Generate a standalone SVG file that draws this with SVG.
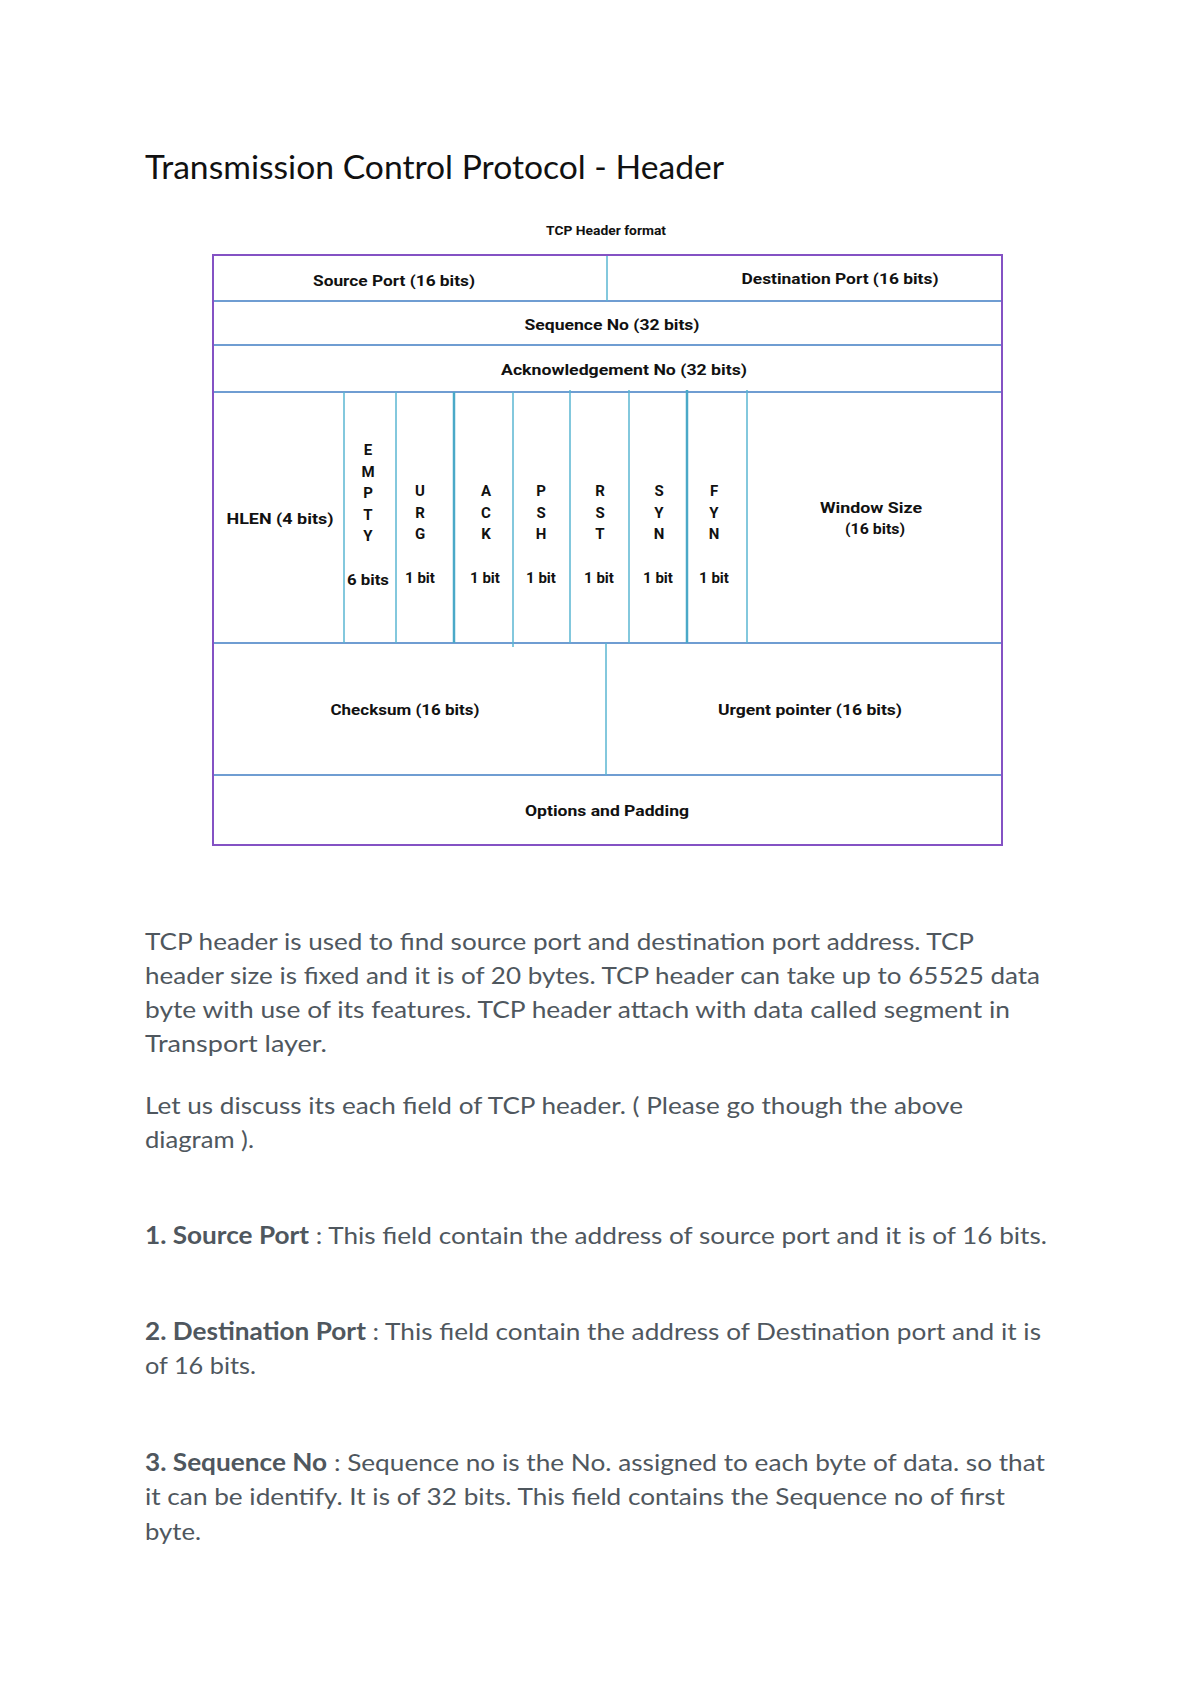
<svg xmlns="http://www.w3.org/2000/svg" width="1200" height="1696" viewBox="0 0 1200 1696">
<style>
.title{font-family:Lato,"Open Sans","Liberation Sans",sans-serif;font-size:32px;fill:#111}
.body{font-family:Lato,"Open Sans","Liberation Sans",sans-serif;font-size:24px;fill:#4f575e}
.b{font-weight:bold}
.lbl{font-family:Roboto,"Liberation Sans",sans-serif;font-weight:bold;font-size:15px;fill:#111;text-anchor:middle}
.cap{font-family:Roboto,"Liberation Sans",sans-serif;font-weight:bold;font-size:12px;fill:#111;text-anchor:middle}
.hl{stroke:#6f9dd2;stroke-width:2;fill:none}
.vl{stroke:#5ab6d2;stroke-width:1.5;fill:none}
.vt{stroke:#4aa9c8;stroke-width:2.5;fill:none}
.outer{stroke:#8452c4;stroke-width:2;fill:none}
</style>
<rect width="1200" height="1696" fill="#fff"/>
<text class="title" x="145" y="179" textLength="579" lengthAdjust="spacingAndGlyphs">Transmission Control Protocol - Header</text>
<text class="cap" x="606" y="235" textLength="120" lengthAdjust="spacingAndGlyphs">TCP Header format</text>

<g id="connectors">
<line class="hl" x1="213" y1="301" x2="1002" y2="301"/>
<line class="hl" x1="213" y1="345" x2="1002" y2="345"/>
<line class="hl" x1="213" y1="392" x2="1002" y2="392"/>
<line class="hl" x1="213" y1="643" x2="1002" y2="643"/>
<line class="hl" x1="213" y1="775" x2="1002" y2="775"/>
<line class="vl" x1="607" y1="255" x2="607" y2="301"/>
<line class="vl" x1="344" y1="392" x2="344" y2="643"/>
<line class="vl" x1="396" y1="392" x2="396" y2="643"/>
<line class="vt" x1="454" y1="392" x2="454" y2="643"/>
<line class="vl" x1="513" y1="392" x2="513" y2="647"/>
<line class="vl" x1="570" y1="390" x2="570" y2="643"/>
<line class="vl" x1="629" y1="390" x2="629" y2="643"/>
<line class="vt" x1="687" y1="390" x2="687" y2="643"/>
<line class="vl" x1="747" y1="390" x2="747" y2="643"/>
<line class="vl" x1="606" y1="643" x2="606" y2="775"/>
<rect class="outer" x="213" y="255" width="789" height="590"/>
</g>

<g id="source-port"><text class="lbl" x="394" y="286" textLength="162" lengthAdjust="spacingAndGlyphs">Source Port (16 bits)</text></g>
<g id="destination-port"><text class="lbl" x="840" y="284" textLength="197" lengthAdjust="spacingAndGlyphs">Destination Port (16 bits)</text></g>
<g id="sequence-no"><text class="lbl" x="612" y="330" textLength="175" lengthAdjust="spacingAndGlyphs">Sequence No (32 bits)</text></g>
<g id="ack-no"><text class="lbl" x="624" y="375" textLength="246" lengthAdjust="spacingAndGlyphs">Acknowledgement No (32 bits)</text></g>
<g id="hlen"><text class="lbl" x="280" y="524" textLength="107" lengthAdjust="spacingAndGlyphs">HLEN (4 bits)</text></g>
<g id="empty">
<text class="lbl" x="368" y="455">E</text><text class="lbl" x="368" y="477">M</text><text class="lbl" x="368" y="498">P</text><text class="lbl" x="368" y="520">T</text><text class="lbl" x="368" y="541">Y</text>
<text class="lbl" x="368" y="585" textLength="42" lengthAdjust="spacingAndGlyphs">6 bits</text>
</g>
<g id="urg"><text class="lbl" x="420" y="496">U</text><text class="lbl" x="420" y="518">R</text><text class="lbl" x="420" y="539">G</text><text class="lbl" x="420" y="583">1 bit</text></g>
<g id="ack"><text class="lbl" x="486" y="496">A</text><text class="lbl" x="486" y="518">C</text><text class="lbl" x="486" y="539">K</text><text class="lbl" x="485" y="583">1 bit</text></g>
<g id="psh"><text class="lbl" x="541" y="496">P</text><text class="lbl" x="541" y="518">S</text><text class="lbl" x="541" y="539">H</text><text class="lbl" x="541" y="583">1 bit</text></g>
<g id="rst"><text class="lbl" x="600" y="496">R</text><text class="lbl" x="600" y="518">S</text><text class="lbl" x="600" y="539">T</text><text class="lbl" x="599" y="583">1 bit</text></g>
<g id="syn"><text class="lbl" x="659" y="496">S</text><text class="lbl" x="659" y="518">Y</text><text class="lbl" x="659" y="539">N</text><text class="lbl" x="658" y="583">1 bit</text></g>
<g id="fyn"><text class="lbl" x="714" y="496">F</text><text class="lbl" x="714" y="518">Y</text><text class="lbl" x="714" y="539">N</text><text class="lbl" x="714" y="583">1 bit</text></g>
<g id="window-size"><text class="lbl" x="871" y="513" textLength="102" lengthAdjust="spacingAndGlyphs">Window Size</text><text class="lbl" x="875" y="534" textLength="60" lengthAdjust="spacingAndGlyphs">(16 bits)</text></g>
<g id="checksum"><text class="lbl" x="405" y="715" textLength="149" lengthAdjust="spacingAndGlyphs">Checksum (16 bits)</text></g>
<g id="urgent-pointer"><text class="lbl" x="810" y="715" textLength="184" lengthAdjust="spacingAndGlyphs">Urgent pointer (16 bits)</text></g>
<g id="options"><text class="lbl" x="607" y="816" textLength="164" lengthAdjust="spacingAndGlyphs">Options and Padding</text></g>

<text class="body" x="145" y="950" textLength="829" lengthAdjust="spacingAndGlyphs">TCP header is used to find source port and destination port address. TCP</text>
<text class="body" x="145" y="984" textLength="895" lengthAdjust="spacingAndGlyphs">header size is fixed and it is of 20 bytes. TCP header can take up to 65525 data</text>
<text class="body" x="145" y="1018" textLength="865" lengthAdjust="spacingAndGlyphs">byte with use of its features. TCP header attach with data called segment in</text>
<text class="body" x="145" y="1052" textLength="182" lengthAdjust="spacingAndGlyphs">Transport layer.</text>
<text class="body" x="145" y="1114" textLength="818" lengthAdjust="spacingAndGlyphs">Let us discuss its each field of TCP header. ( Please go though the above</text>
<text class="body" x="145" y="1148" textLength="109" lengthAdjust="spacingAndGlyphs">diagram ).</text>
<text class="body" x="145" y="1244" textLength="902" lengthAdjust="spacingAndGlyphs"><tspan class="b">1. Source Port</tspan> : This field contain the address of source port and it is of 16 bits.</text>
<text class="body" x="145" y="1340" textLength="896" lengthAdjust="spacingAndGlyphs"><tspan class="b">2. Destination Port</tspan> : This field contain the address of Destination port and it is</text>
<text class="body" x="145" y="1374" textLength="111" lengthAdjust="spacingAndGlyphs">of 16 bits.</text>
<text class="body" x="145" y="1471" textLength="900" lengthAdjust="spacingAndGlyphs"><tspan class="b">3. Sequence No</tspan> : Sequence no is the No. assigned to each byte of data. so that</text>
<text class="body" x="145" y="1505" textLength="860" lengthAdjust="spacingAndGlyphs">it can be identify. It is of 32 bits. This field contains the Sequence no of first</text>
<text class="body" x="145" y="1540" textLength="56" lengthAdjust="spacingAndGlyphs">byte.</text>
</svg>
